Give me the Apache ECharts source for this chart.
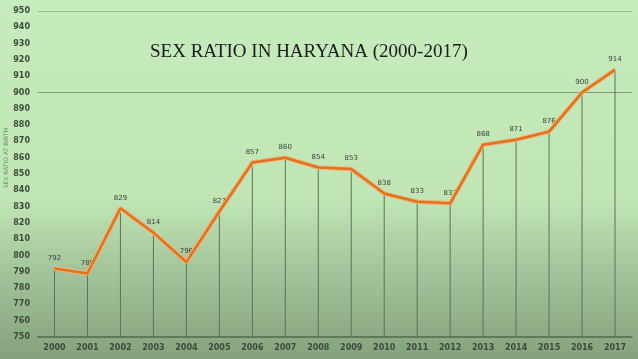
<!DOCTYPE html>
<html>
<head>
<meta charset="utf-8">
<script src="https://cdn.jsdelivr.net/npm/echarts@6/dist/echarts.min.js"></script>
<style>
html,body{margin:0;padding:0;}
#c{width:638px;height:359px;}
</style>
</head>
<body>
<div id="c"></div>
<script>
const years = ['2000','2001','2002','2003','2004','2005','2006','2007','2008','2009','2010','2011','2012','2013','2014','2015','2016','2017'];
const sexRatio = [792,789,829,814,796,827,857,860,854,853,838,833,832,868,871,876,900,914];
const yMin = 750, yMax = 950, yStep = 10;
const titleText = 'SEX RATIO IN HARYANA (2000-2017)';
const yName = 'SEX RATIO AT BIRTH';

const chart = echarts.init(document.getElementById('c'));
chart.setOption({
  backgroundColor: {
    type: 'linear', x: 0, y: 0, x2: 0, y2: 1,
    colorStops: [
      {offset: 0, color: '#c6ecbd'},
      {offset: 0.55, color: '#c0e6b6'},
      {offset: 0.75, color: '#a4c59b'},
      {offset: 1, color: '#84a27c'}
    ]
  },
  animation: false,
  title: {
    text: titleText,
    left: 145, top: 38,
    textStyle: {fontFamily: 'Liberation Serif', fontWeight: 'normal', fontSize: 19, color: '#1b1b1b'}
  },
  graphic: [{
    type: 'text',
    left: 3, top: 128,
    rotation: Math.PI / 2,
    style: {text: yName, font: '6px "DejaVu Sans"', fill: '#6f8f6a'}
  }],
  grid: {left: 38, right: 6.5, top: 11, bottom: 22},
  xAxis: {
    type: 'category',
    data: years,
    boundaryGap: true,
    axisLine: {show: true, lineStyle: {color: '#5f7a5a', width: 2}},
    axisTick: {show: false},
    axisLabel: {color: '#3d4a3b', fontSize: 8, fontWeight: 'bold', fontFamily: 'DejaVu Sans', margin: 7},
    splitLine: {show: false}
  },
  yAxis: {
    type: 'value',
    min: yMin, max: yMax, interval: yStep,
    axisLine: {show: false},
    axisTick: {show: false},
    axisLabel: {color: '#3d4a3b', fontSize: 8, fontWeight: 'bold', fontFamily: 'DejaVu Sans', margin: 8},
    splitLine: {
      show: true,
      lineStyle: {
        color: ['transparent','transparent','transparent','transparent','transparent','transparent','transparent','transparent','transparent','transparent','transparent','transparent','transparent','transparent','transparent','#7f9a7a','transparent','transparent','transparent','transparent','#9ab893'],
        width: 1.2
      }
    }
  },
  series: [
    {
      type: 'bar',
      data: sexRatio,
      barWidth: 1,
      itemStyle: {color: '#5b735a'},
      label: {show: true, position: 'top', distance: 7, fontSize: 7, color: '#3a3f38', fontFamily: 'DejaVu Sans'},
      labelLayout: {hideOverlap: false},
      silent: true,
      z: 1
    },
    {
      type: 'line',
      data: sexRatio,
      symbol: 'none',
      lineStyle: {color: '#f2b374', width: 4.5},
      z: 2,
      silent: true
    },
    {
      type: 'line',
      data: sexRatio,
      symbol: 'none',
      lineStyle: {color: '#e0731f', width: 2.5},
      z: 3
    }
  ]
});
</script>
</body>
</html>
